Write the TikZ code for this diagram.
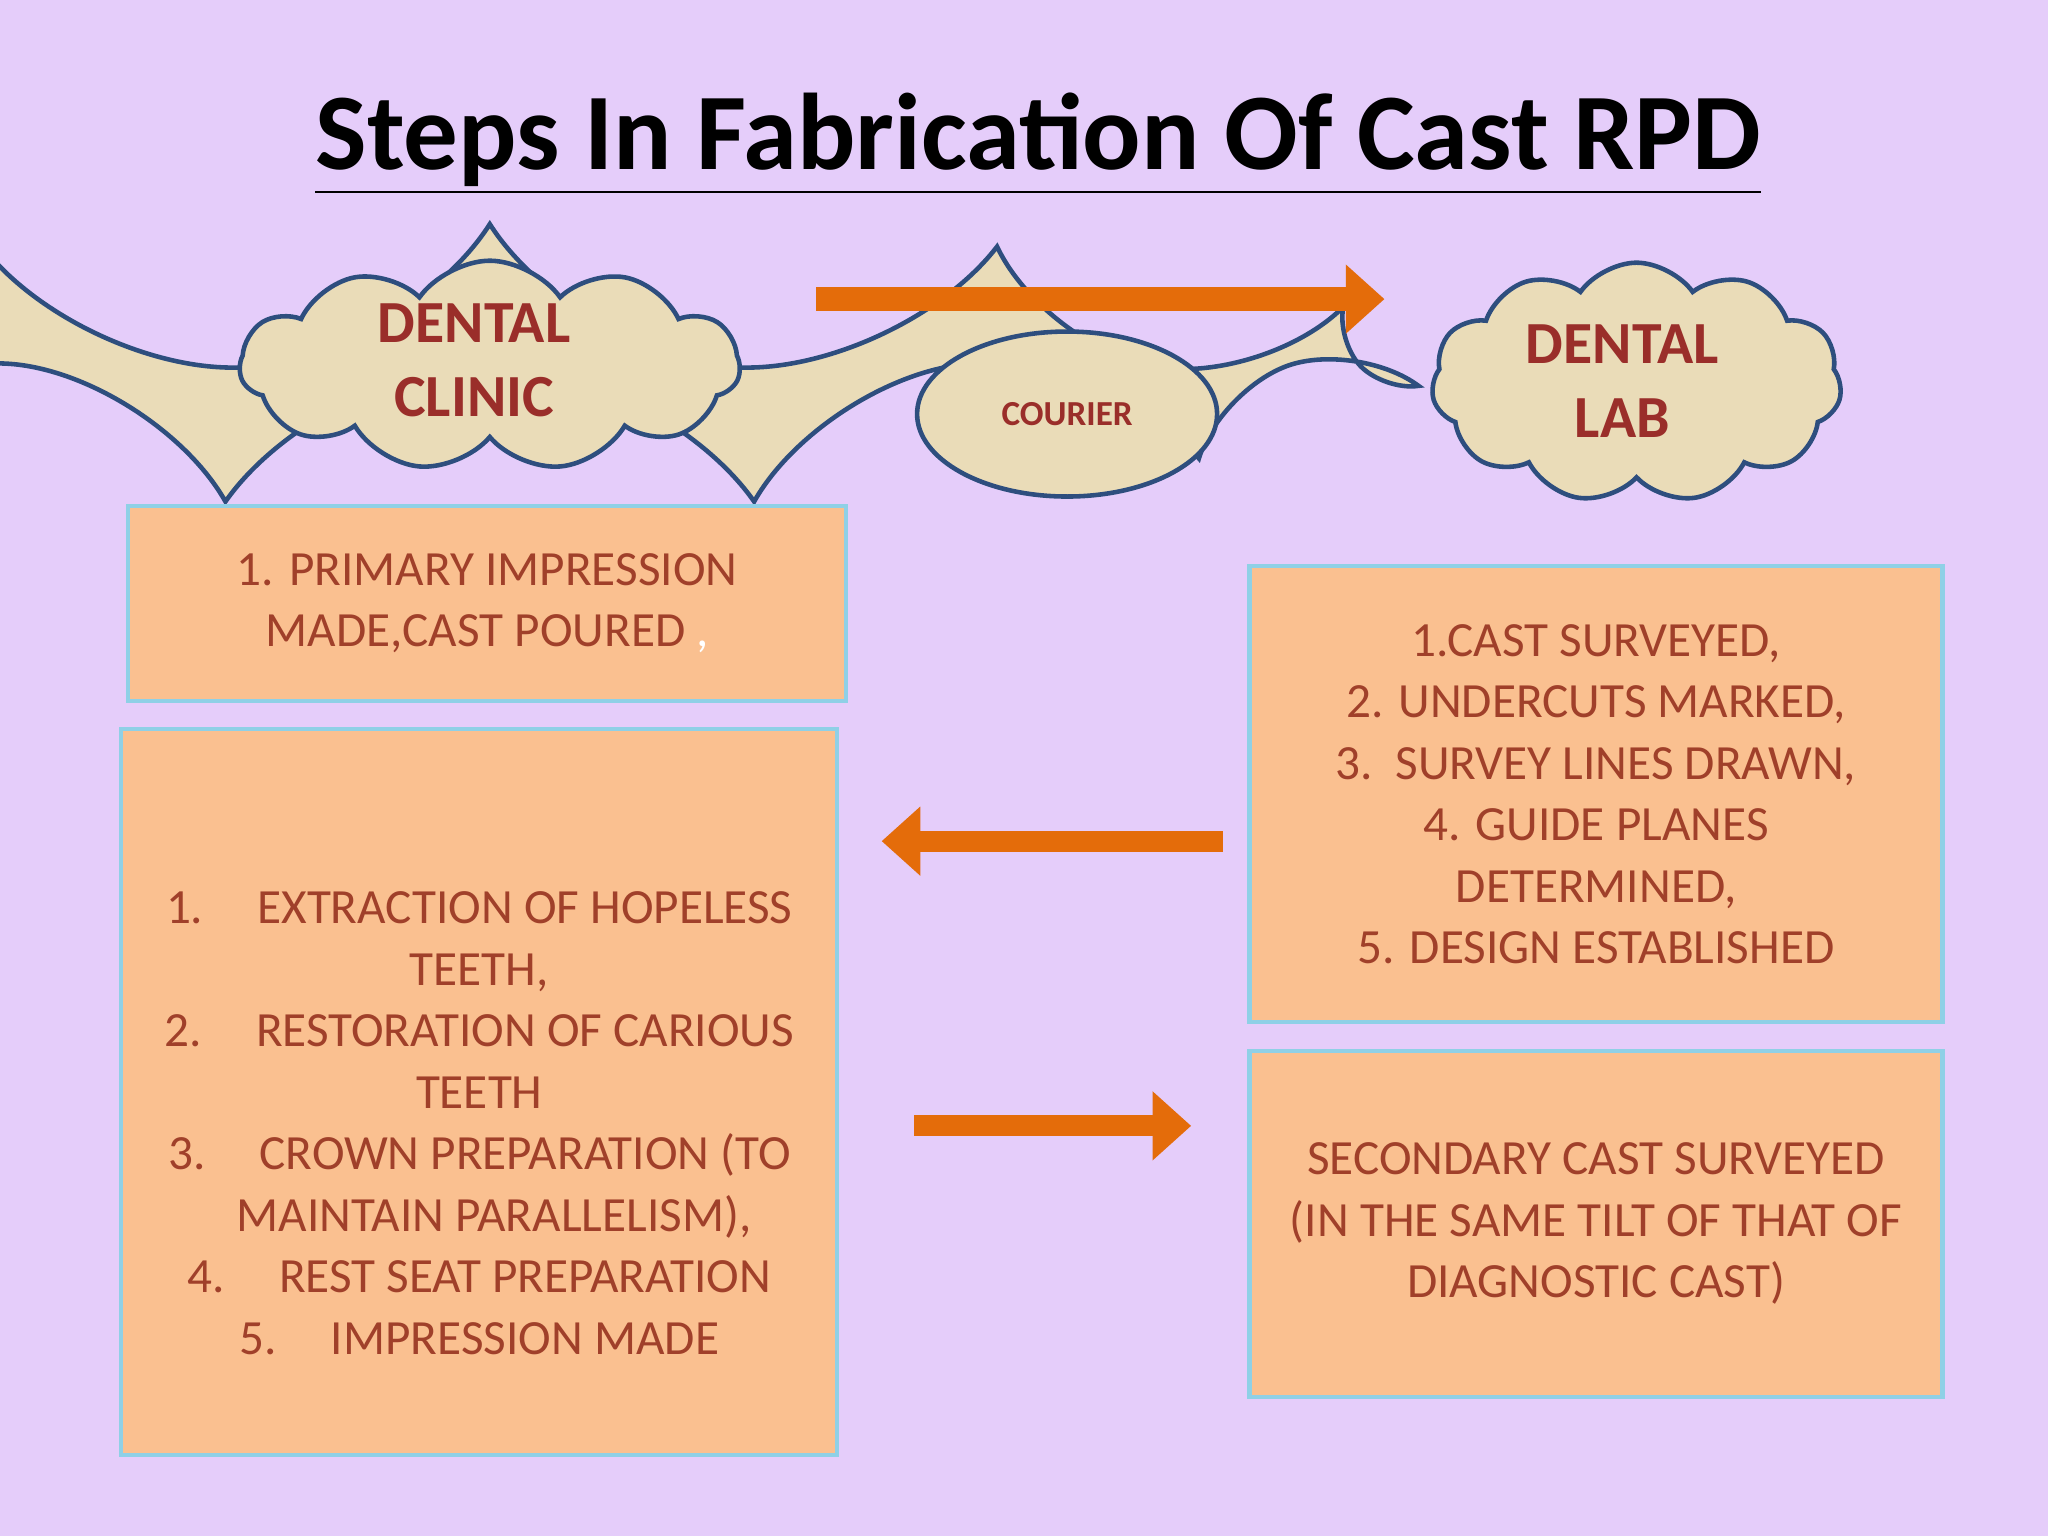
\documentclass[tikz,border=0pt]{standalone}
\usepackage{fontspec}
\setmainfont{Carlito}
\usetikzlibrary{shapes.symbols,shapes.geometric,arrows.meta}
\definecolor{bg}{HTML}{E5CDFA}
\definecolor{boxf}{HTML}{FAC090}
\definecolor{boxd}{HTML}{8FD0E6}
\definecolor{txt}{HTML}{A0402A}
\definecolor{org}{HTML}{E46C0A}
\definecolor{beige}{HTML}{EADCB8}
\definecolor{cl}{HTML}{2E4E7E}
\definecolor{cltxt}{HTML}{9A2E2A}
\tikzset{
 box/.style={draw=boxd,line width=1.2pt,fill=boxf,text=txt,align=center,font=\fontsize{14}{17.5}\selectfont},
 cloudy/.style={cloud,cloud puffs=11,cloud puff arc=110,aspect=2.2,draw=cl,line width=1.3pt,fill=beige,text=cltxt,align=center,font=\fontsize{17}{18}\selectfont\bfseries},
 arr/.style={draw=org,line width=7pt,-{Triangle[length=11pt,width=19pt]}}
}
\begin{document}
\begin{tikzpicture}[x=0.013061cm,y=-0.013061cm]
\fill[bg] (0,0) rectangle (1568,1176);
\useasboundingbox (0,0) rectangle (1568,1176);
\node[font=\fontsize{31}{34}\selectfont\bfseries] (title) at (795,110) {\underline{Steps In Fabrication Of Cast RPD}};
\node[cloudy,minimum width=385\pgflinewidth,inner sep=0pt] (clinic) at (375,280) {};
\node[cloudy,draw=none,fill=none,minimum width=5.03cm,minimum height=2.1cm] at (375,280) {};
\node[cloudy,draw=none,fill=none] (clinict) at (365,276) {DENTAL\\CLINIC};
\node[cloudy,minimum width=5.0cm,minimum height=2.1cm] (clinicc) at (375,280) {};
\node[text=cltxt,align=center,font=\fontsize{17}{21}\selectfont\bfseries] (clinicl) at (363,276) {DENTAL\\CLINIC};
\node[cloudy,aspect=1.6,minimum width=4.1cm,minimum height=2.4cm] (lab) at (1253,293) {};
\node[text=cltxt,align=center,font=\fontsize{17}{21}\selectfont\bfseries] (labl) at (1242,292) {DENTAL\\LAB};
\node[ellipse,draw=cl,line width=1.3pt,fill=beige,minimum width=230\pgflinewidth,text=cltxt,font=\fontsize{10}{12}\selectfont\bfseries,minimum width=3.0cm,minimum height=1.65cm] (courier) at (817,317) {COURIER};
\node[box,minimum width=7.18cm,minimum height=1.95cm] (b1) at (373,462) {1. PRIMARY IMPRESSION\\MADE,CAST POURED {\color{white},}};
\node[box,minimum width=7.16cm,minimum height=7.26cm] (b2) at (367,836) {};
\node[text=txt,align=center,font=\fontsize{14}{17.5}\selectfont] (b2t) at (367,860) {1.\hspace{1.1em}EXTRACTION OF HOPELESS\\TEETH,\\2.\hspace{1.1em}RESTORATION OF CARIOUS\\TEETH\\3.\hspace{1.1em}CROWN PREPARATION (TO\\\hspace{0.6em}MAINTAIN PARALLELISM),\\4.\hspace{1.1em}REST SEAT PREPARATION\\5.\hspace{1.1em}IMPRESSION MADE\hspace{1.5em}};
\node[box,minimum width=6.93cm,minimum height=4.56cm] (b3) at (1222,608) {1.CAST SURVEYED,\\2. UNDERCUTS MARKED,\\3.\ \ SURVEY LINES DRAWN,\\4. GUIDE PLANES\\DETERMINED,\\5. DESIGN ESTABLISHED};
\node[box,minimum width=6.93cm,minimum height=3.46cm] (b4) at (1222,937) {SECONDARY CAST SURVEYED\\(IN THE SAME TILT OF THAT OF\\DIAGNOSTIC CAST)};
\coordinate (a1s) at (625,229); \coordinate (a1e) at (1060,229);
\coordinate (a2s) at (936,644); \coordinate (a2e) at (675,644);
\coordinate (a3s) at (700,862); \coordinate (a3e) at (912,862);
\draw[arr] (a1s) -- (a1e);
\draw[arr,line width=6pt] (a2s) -- (a2e);
\draw[arr,line width=6pt] (a3s) -- (a3e);
\end{tikzpicture}
\end{document}
